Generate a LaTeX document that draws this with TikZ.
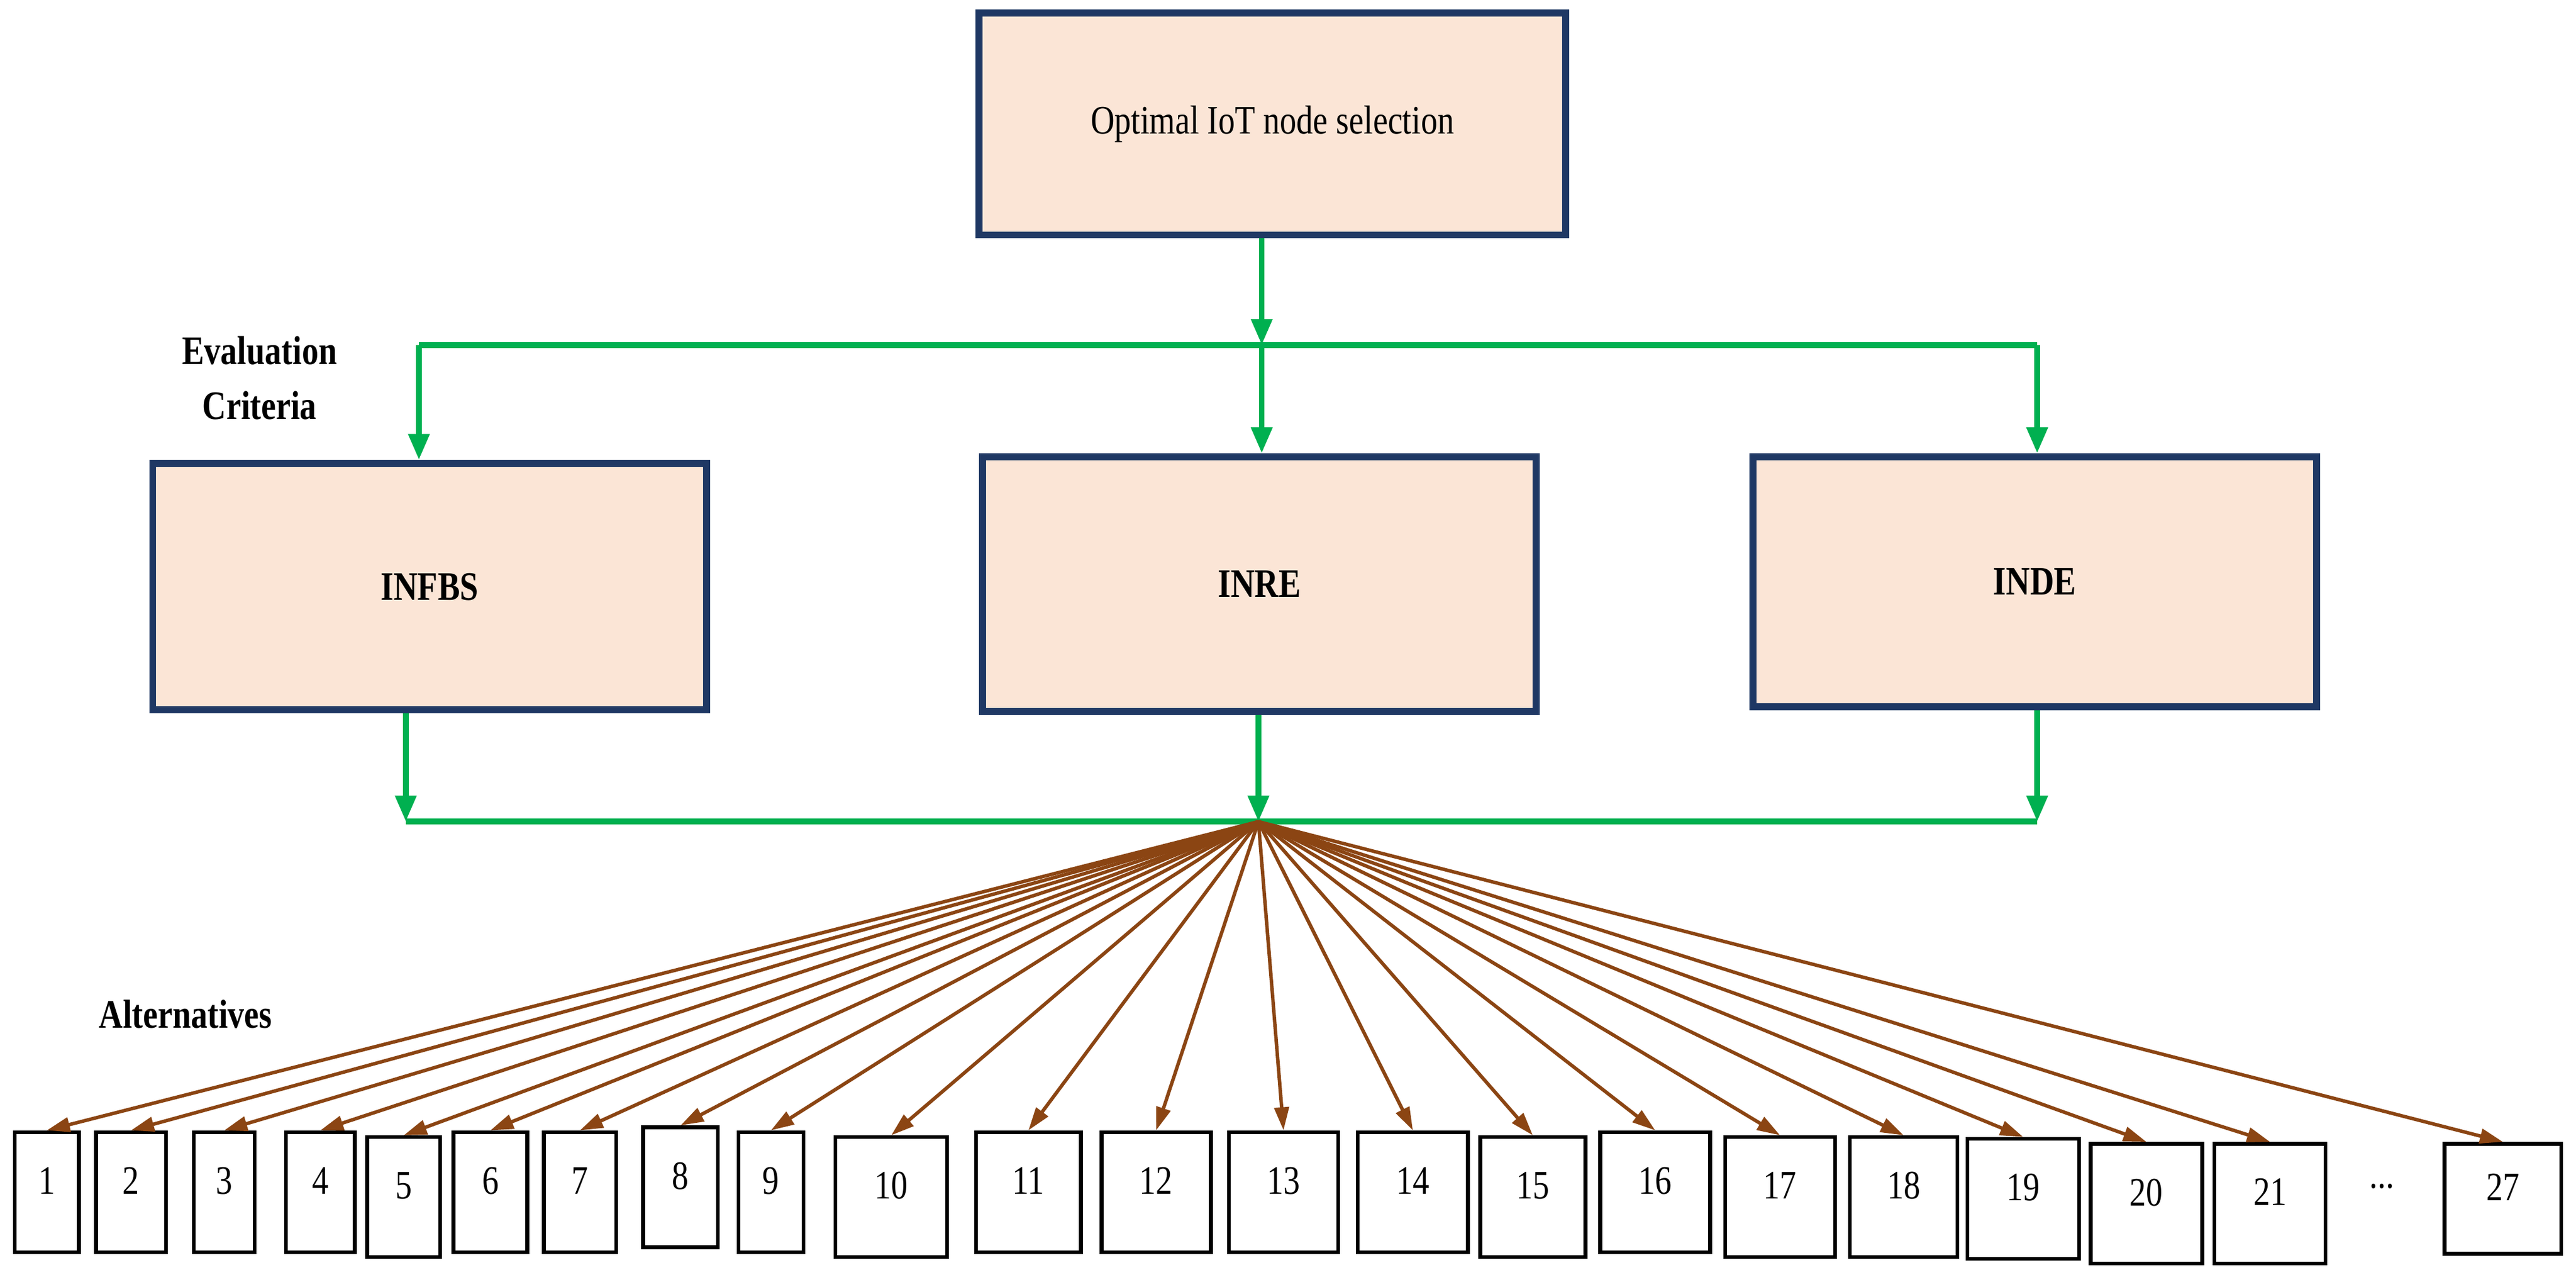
\documentclass[tikz,border=0pt]{standalone}
\usepackage{fontspec}
\setmainfont{Liberation Serif}[FakeStretch=0.82]
\usetikzlibrary{arrows.meta}
\definecolor{navy}{RGB}{31,56,100}
\definecolor{peach}{RGB}{251,229,214}
\definecolor{grn}{RGB}{0,176,80}
\definecolor{brn}{RGB}{139,69,19}
\newcommand{\altbx}[5]{\node[alt,minimum width={(#3-#2)*0.02cm},minimum height={(#5-#4)*0.02cm}] (a#1) at ({(#2+#3)/2},{(#4+#5)/2}) {\raisebox{8pt}{#1}};}
\begin{document}
\begin{tikzpicture}[x=0.02cm,y=-0.02cm,
  main/.style={draw=navy,line width=2.4pt,fill=peach,inner sep=0pt,font=\fontsize{14}{16}\selectfont},
  alt/.style={draw=black,line width=1.3pt,fill=white,inner sep=0pt,font=\fontsize{14}{16}\selectfont},
  gline/.style={draw=grn,line width=2pt},
  garr/.style={gline,-{Triangle[length=9pt,width=7pt]}},
  barr/.style={draw=brn,line width=1.2pt,-{Triangle[length=8pt,width=5pt]}},
  lab/.style={font=\bfseries\fontsize{14}{19}\selectfont,align=center}]
\useasboundingbox (0,0) rectangle (1568,772.5);
\node[main,minimum width={357*0.02cm},minimum height={135*0.02cm}] (top) at (774.5,75.5) {Optimal IoT node selection};
\node[main,minimum width={337*0.02cm},minimum height={150*0.02cm},font=\bfseries\fontsize{14}{16}\selectfont] (c1) at (261.5,357) {INFBS};
\node[main,minimum width={337*0.02cm},minimum height={155*0.02cm},font=\bfseries\fontsize{14}{16}\selectfont] (c2) at (766.5,355.5) {INRE};
\node[main,minimum width={343*0.02cm},minimum height={152*0.02cm},font=\bfseries\fontsize{14}{16}\selectfont] (c3) at (1238.5,354) {INDE};
\node[lab] (ec) at (158,230) {Evaluation\\Criteria};
\node[lab] (alt) at (113,617) {Alternatives};
% green top
\coordinate (j) at (768,210);
\coordinate (jl) at (255,210);
\coordinate (jr) at (1240,210);
\draw[garr] (top.south -| j) -- (j);
\draw[gline] (jl) -- (jr);
\draw[garr] (jl) -- (jl |- c1.north);
\draw[garr] (j) -- (j |- c2.north);
\draw[garr] (jr) -- (jr |- c3.north);
% green bottom
\coordinate (h) at (766,500);
\coordinate (hl) at (247,500);
\coordinate (hr) at (1240,500);
\draw[gline] (hl) -- (hr);
\draw[garr] (hl |- c1.south) -- (hl);
\draw[garr] (h |- c2.south) -- (h);
\draw[garr] (hr |- c3.south) -- (hr);
% alternatives
\altbx{1}{9}{48}{689}{762}
\altbx{2}{58.5}{101}{689}{762}
\altbx{3}{118}{155}{689}{762}
\altbx{4}{174}{216}{689}{762}
\altbx{5}{223.5}{268}{692}{765}
\altbx{6}{276}{321}{689}{762}
\altbx{7}{331}{375}{689}{762}
\altbx{8}{391.5}{437}{686}{759}
\altbx{9}{449.5}{489}{689}{762}
\altbx{10}{508.5}{576.5}{692}{765}
\altbx{11}{594}{658}{689}{762}
\altbx{12}{670.5}{737}{689}{762}
\altbx{13}{748}{814.5}{689}{762}
\altbx{14}{826.5}{893.5}{689}{762}
\altbx{15}{901}{965}{692}{765}
\altbx{16}{974}{1041}{689}{762}
\altbx{17}{1050}{1117}{692}{765}
\altbx{18}{1126}{1191.5}{692}{765}
\altbx{19}{1197.5}{1265.5}{693}{766}
\altbx{20}{1272.5}{1340.5}{696}{769}
\altbx{21}{1348}{1415.5}{696}{769}
\altbx{27}{1488}{1559}{696}{763}
\node[font=\fontsize{14}{16}\selectfont] (dots) at (1450,722) {...};
\foreach \i in {1,...,21,27} \draw[barr] (h) -- (a\i.north);
\end{tikzpicture}
\end{document}
